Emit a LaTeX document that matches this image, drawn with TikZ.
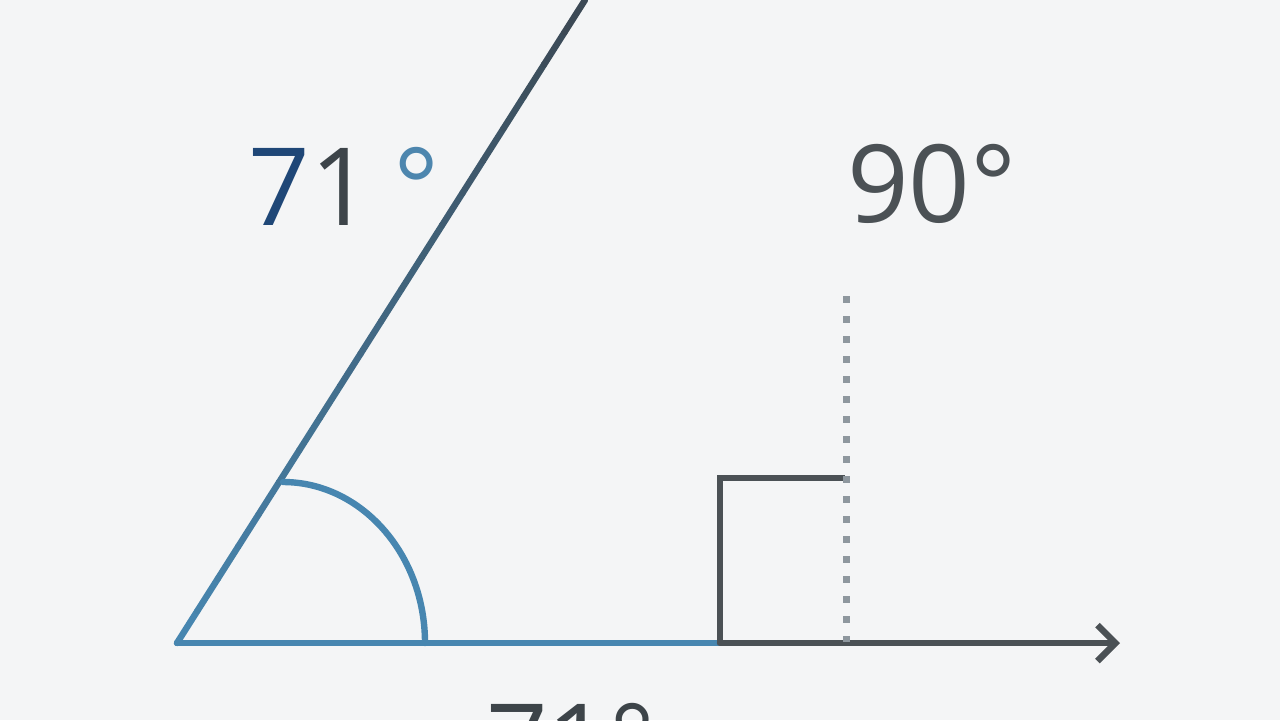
\documentclass[tikz,border=0pt]{standalone}
\usepackage{fontspec}
\setmainfont{Open Sans}
\usetikzlibrary{arrows.meta,calc}
\definecolor{bgcol}{HTML}{F4F5F6}
\definecolor{rayblue}{HTML}{4786B0}
\definecolor{raygray}{HTML}{3B4650}
\definecolor{darkgray}{HTML}{4B5155}
\definecolor{dotgray}{HTML}{8E979E}
\definecolor{txtblue}{HTML}{1F4777}
\definecolor{txtgray}{HTML}{3D4449}
\definecolor{degblue}{HTML}{4D86AE}
\begin{document}
\begin{tikzpicture}[x=0.5pt,y=-0.5pt,
        edge/.style={line width=3.2pt,line cap=round},
        deg/.style={font=\fontsize{54}{56}\selectfont,inner sep=0pt}]
    \fill[bgcol] (0,0) rectangle (1280,720);
    \useasboundingbox (0,0) rectangle (1280,720);
    \clip (0,0) rectangle (1280,720);
    \coordinate (O) at (177,643);
    \coordinate (A) at (585,0);
    \coordinate (C) at (720,643);
    \coordinate (E) at (1120,643);
    \coordinate (Q) at (720,478);
    \coordinate (S) at (845,478);
    \coordinate (R) at (425,643);
    \coordinate (T) at (283,482);
    % slanted side, blue to gray
    \foreach \i in {0,...,19}{
        \pgfmathsetmacro\p{100-5*\i}
        \draw[edge, color=rayblue!\p!raygray]
            ($(O)!\i/20!(A)$) -- ($(O)!{(\i+1)/20}!(A)$);
    }
    \draw[edge, color=rayblue] (O) -- (C);
    \draw[edge, color=darkgray, -{Straight Barb[length=9pt,width=18pt]}] (C) -- (E);
    \draw[edge, color=rayblue] (R) .. controls (425,554) and (361,482) .. (T);
    \draw[line width=3.2pt, color=darkgray, line join=miter] (C) -- (Q) -- (S);
    \draw[line width=3.5pt, color=dotgray, dash pattern=on 3.5pt off 6.5pt] (846,296) -- (846,642);
    \node[deg] (top71) at (344,186) {\textcolor{txtblue}{7}\textcolor{txtgray}{1}\hspace{0.2em}\textcolor{degblue}{°}};
    \node[deg, text=darkgray] (top90) at (932,184) {90°};
    \node[deg, text=txtgray] (low71) at (571,742) {71°};
\end{tikzpicture}
\end{document}
